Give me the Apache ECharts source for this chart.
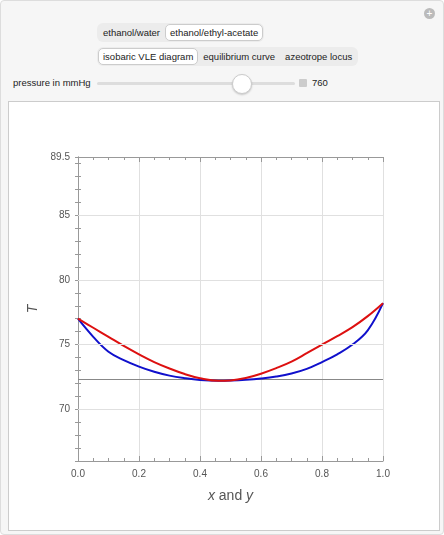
<!DOCTYPE html>
<html><head><meta charset="utf-8">
<script src="https://cdn.jsdelivr.net/npm/echarts@6/dist/echarts.min.js"></script>
<style>
body{margin:0;width:444px;height:535px;background:#fff;font-family:"Liberation Sans",Arial,sans-serif;overflow:hidden}
#panel{position:absolute;left:0;top:0;width:442px;height:533px;background:#f6f6f6;border:1px solid #ddd;border-radius:4px}
.bar{position:absolute;background:#ececec;border-radius:6px;font-size:9.5px;color:#222;display:flex;padding:1px}
.bar span{padding:3px 5px;border-radius:5px}
.bar span.on{background:#fff;border:1px solid #ccc;padding:2px 4px}
#chartbox{position:absolute;left:7px;top:100px;width:430px;height:428px;background:#fff;border:1px solid #ccc}
#chart{position:absolute;left:0;top:0;width:430px;height:428px}
</style></head><body>
<div id="panel">
 <div style="position:absolute;right:8px;top:7px;width:11px;height:11px;border-radius:50%;background:#bbb;color:#fff;font-size:10px;line-height:11px;text-align:center">+</div>
 <div class="bar" style="left:96px;top:22px"><span>ethanol/water</span><span class="on">ethanol/ethyl-acetate</span></div>
 <div class="bar" style="left:96px;top:46px"><span class="on">isobaric VLE diagram</span><span>equilibrium curve</span><span>azeotrope locus</span></div>
 <div style="position:absolute;left:12px;top:76px;font-size:9.5px;color:#222">pressure in mmHg</div>
 <div style="position:absolute;left:96px;top:81px;width:198px;height:3px;background:#ddd;border-radius:2px"></div>
 <div style="position:absolute;left:231px;top:73px;width:18px;height:18px;border-radius:50%;background:#fff;border:1px solid #ccc;box-shadow:0 1px 2px rgba(0,0,0,.2)"></div>
 <div style="position:absolute;left:298px;top:78px;width:8px;height:8px;background:#ccc;border-radius:1px"></div>
 <div style="position:absolute;left:311px;top:76px;font-size:9.5px;color:#222">760</div>
 <div id="chartbox"><div id="chart"></div></div>
</div>
<script>
const xs = [0,0.05,0.1,0.15,0.2,0.25,0.3,0.35,0.4,0.46,0.5,0.55,0.6,0.65,0.7,0.75,0.8,0.85,0.9,0.95,1.0];
const bubbleT = [77.0,75.6,74.45,73.8,73.3,72.9,72.6,72.4,72.26,72.2,72.22,72.28,72.38,72.53,72.76,73.12,73.65,74.25,75.0,76.1,78.2];
const dewT = [77.0,76.3,75.6,74.9,74.25,73.65,73.15,72.72,72.4,72.2,72.23,72.42,72.75,73.18,73.68,74.33,75.0,75.65,76.35,77.2,78.2];
const azeoT = 72.3;
const yGridLines = [70,75,80,85];
const c = echarts.init(document.getElementById('chart'));
const gridCol='#e0e0e0', axCol='#999', lab={color:'#555',fontSize:10};
const mk = (arr)=>arr.map((v,i)=>[xs[i],v]);
const yTickCommon = {type:'value',min:66,max:89.5,interval:1,
   axisLine:{show:true,lineStyle:{color:axCol}},
   axisTick:{show:true,inside:true,length:3,lineStyle:{color:axCol}},splitLine:{show:false}};
c.setOption({
 animation:false,
 grid:{left:69,top:55,width:305,height:304},
 xAxis:[{type:'value',min:0,max:1,interval:0.2,position:'bottom',
   axisLine:{lineStyle:{color:axCol}},axisTick:{inside:true,length:5,lineStyle:{color:axCol}},
   minorTick:{show:true,splitNumber:4,length:3,lineStyle:{color:axCol}},
   splitLine:{show:true,lineStyle:{color:gridCol}},
   axisLabel:{...lab,formatter:v=>v.toFixed(1)},
   name:'{i|x} and {i|y}',nameLocation:'middle',nameGap:28,
   nameTextStyle:{color:'#555',fontSize:14,rich:{i:{fontStyle:'italic',fontSize:14,color:'#555'}}}},
  {type:'value',min:0,max:1,interval:0.2,position:'top',
   axisLine:{lineStyle:{color:axCol}},axisTick:{inside:true,length:5,lineStyle:{color:axCol}},
   minorTick:{show:true,splitNumber:4,length:3,lineStyle:{color:axCol}},axisLabel:{show:false},splitLine:{show:false}}],
 yAxis:[{...yTickCommon,
   axisLabel:{...lab,formatter:v=>(Math.round(v)%5===0?String(v):'')},
   name:'T',nameLocation:'middle',nameGap:30,nameRotate:90,
   nameTextStyle:{color:'#555',fontSize:14,fontStyle:'italic'}},
  {...yTickCommon,position:'right',axisLabel:{show:false}}],
 series:[
  {type:'line',data:[[0,azeoT],[1,azeoT]],symbol:'none',lineStyle:{color:'#888',width:1},z:1,
   markLine:{silent:true,symbol:'none',label:{show:false},lineStyle:{color:gridCol,type:'solid',width:1},
     data:yGridLines.map(v=>({yAxis:v}))}},
  {type:'line',data:mk(bubbleT),smooth:0.4,symbol:'none',lineStyle:{color:'#1010cc',width:2}},
  {type:'line',data:mk(dewT),smooth:0.4,symbol:'none',lineStyle:{color:'#dd1010',width:2}}
 ]
});
</script></body></html>
